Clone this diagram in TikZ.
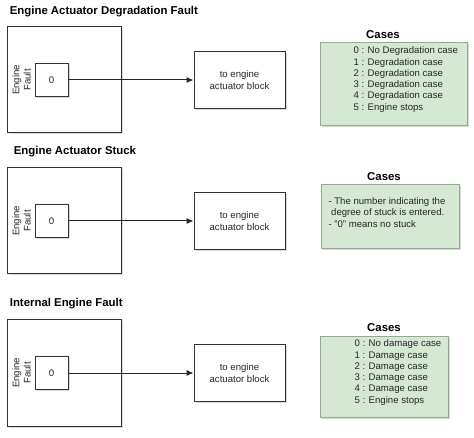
\documentclass[tikz,border=0pt]{standalone}
\usepackage{fontspec}
\setmainfont{Liberation Sans}
\usetikzlibrary{shadows,arrows.meta}
\definecolor{casefill}{HTML}{D5E8D4}
\definecolor{caseline}{HTML}{8FAE88}

\begin{document}
\begin{tikzpicture}[>={Latex[length=7pt,width=6pt]},x=1pt,y=-1pt,line width=1pt,
    every node/.style={font=\fontsize{9.6}{11.3}\selectfont,text=black!85},
    shade/.style={drop shadow={shadow xshift=1.5pt,shadow yshift=-1.5pt,opacity=.3}},
    blk/.style={draw=black!80,fill=white,shade,inner sep=0pt},
    casebox/.style={draw=caseline,fill=casefill,shade,inner sep=0pt},
    heading/.style={font=\fontsize{11.4}{13}\selectfont\bfseries,text=black}]
    \useasboundingbox (0,0) rectangle (474,438);
    % three fault blocks
    \foreach \t/\n in {27/a,168/b,320/c} {
        \node [blk,minimum width=114pt,minimum height=106pt] (outer\n) at (64,\t+53) {};
        \node [blk,minimum size=33pt] (in\n) at (51.5,\t+53) {0};
        \node [rotate=90,align=center,inner sep=0pt] (lbl\n) at (21.5,\t+53) {Engine\\Fault};
        \node [blk,minimum width=91pt,minimum height=57pt,align=center] (tgt\n) at (239.5,\t+53) {to engine\\actuator block};
        \draw [->,black!85] (in\n.east) -- (tgt\n.west);
    }
    \node [heading,anchor=west] (titlea) at (6,12) {Engine Actuator Degradation Fault};
    \node [heading,anchor=west] (titleb) at (10,152) {Engine Actuator Stuck};
    \node [heading,anchor=west] (titlec) at (6,304) {Internal Engine Fault};
    % cases
    \node [heading] (heada) at (383,35) {Cases};
    \node [casebox,minimum width=147pt,minimum height=83pt] (casea) at (393.5,84.5) {};
    \node [anchor=west,align=left,inner sep=0pt] (lista) at (353,79.5)
        {0 : No Degradation case\\1 : Degradation case\\2 : Degradation case\\3 : Degradation case\\4 : Degradation case\\5 : Engine stops};
    \node [heading] (headb) at (384,177) {Cases};
    \node [casebox,minimum width=138pt,minimum height=64pt] (caseb) at (390,217) {};
    \node [anchor=west,align=left,inner sep=0pt] (listb) at (328,212.5)
        {- The number indicating the\\\ degree of stuck is entered.\\- "0" means no stuck};
    \node [heading] (headc) at (384,328) {Cases};
    \node [casebox,minimum width=128pt,minimum height=80pt] (casec) at (384,377) {};
    \node [anchor=west,align=left,inner sep=0pt] (listc) at (354,372.5)
        {0 : No damage case\\1 : Damage case\\2 : Damage case\\3 : Damage case\\4 : Damage case\\5 : Engine stops};
\end{tikzpicture}
\end{document}
